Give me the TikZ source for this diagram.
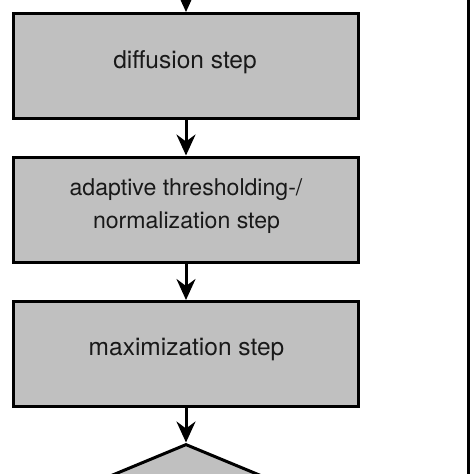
\documentclass[tikz,border=0pt]{standalone}
\usepackage{fontspec}
\setmainfont{TeX Gyre Heros}
\usetikzlibrary{arrows.meta,shapes.geometric}
\definecolor{boxgray}{HTML}{C0C0C0}
\tikzset{
  stepbox/.style={draw=black, fill=boxgray, line width=3pt, rectangle,
    minimum width=345pt, minimum height=105pt, inner sep=0pt},
  steptext/.style={anchor=base, inner sep=0pt, text=black!90,
    font=\fontsize{24.5}{33}\selectfont},
  steptextsmall/.style={steptext, font=\fontsize{23.1}{33}\selectfont},
  decbox/.style={draw=black, fill=boxgray, line width=3pt, diamond,
    minimum width=300pt, minimum height=125pt, inner sep=0pt},
  flow/.style={line width=3pt, -{Stealth[length=21pt,width=19pt,inset=7pt]}},
  loopline/.style={line width=2.3pt}
}
\begin{document}
\begin{tikzpicture}[x=1pt,y=-1pt]
\useasboundingbox (0,0) rectangle (474,474);
\clip (0,0) rectangle (474,474);
\coordinate (top) at (186,-5);
\node[stepbox] (diff) at (186,66) {};
\node[stepbox] (thr) at (186,209.5) {};
\node[stepbox] (max) at (186,354) {};
\node[decbox] (dec) at (186,506.5) {};
\node[steptext] (diffT) at (185,68.3) {diffusion step};
\node[steptextsmall] (thrTa) at (186,195) {adaptive thresholding-/};
\node[steptextsmall] (thrTb) at (186.5,228) {normalization step};
\node[steptext] (maxT) at (186.5,355) {maximization step};
\coordinate (rtop) at (468.5,-5);
\coordinate (rbot) at (468.5,480);
\draw[flow] (top) -- (diff.north);
\draw[flow] (diff.south) -- (thr.north);
\draw[flow] (thr.south) -- (max.north);
\draw[flow] (max.south) -- (dec.north);
\draw[loopline] (rtop) -- (rbot);
\end{tikzpicture}
\end{document}
